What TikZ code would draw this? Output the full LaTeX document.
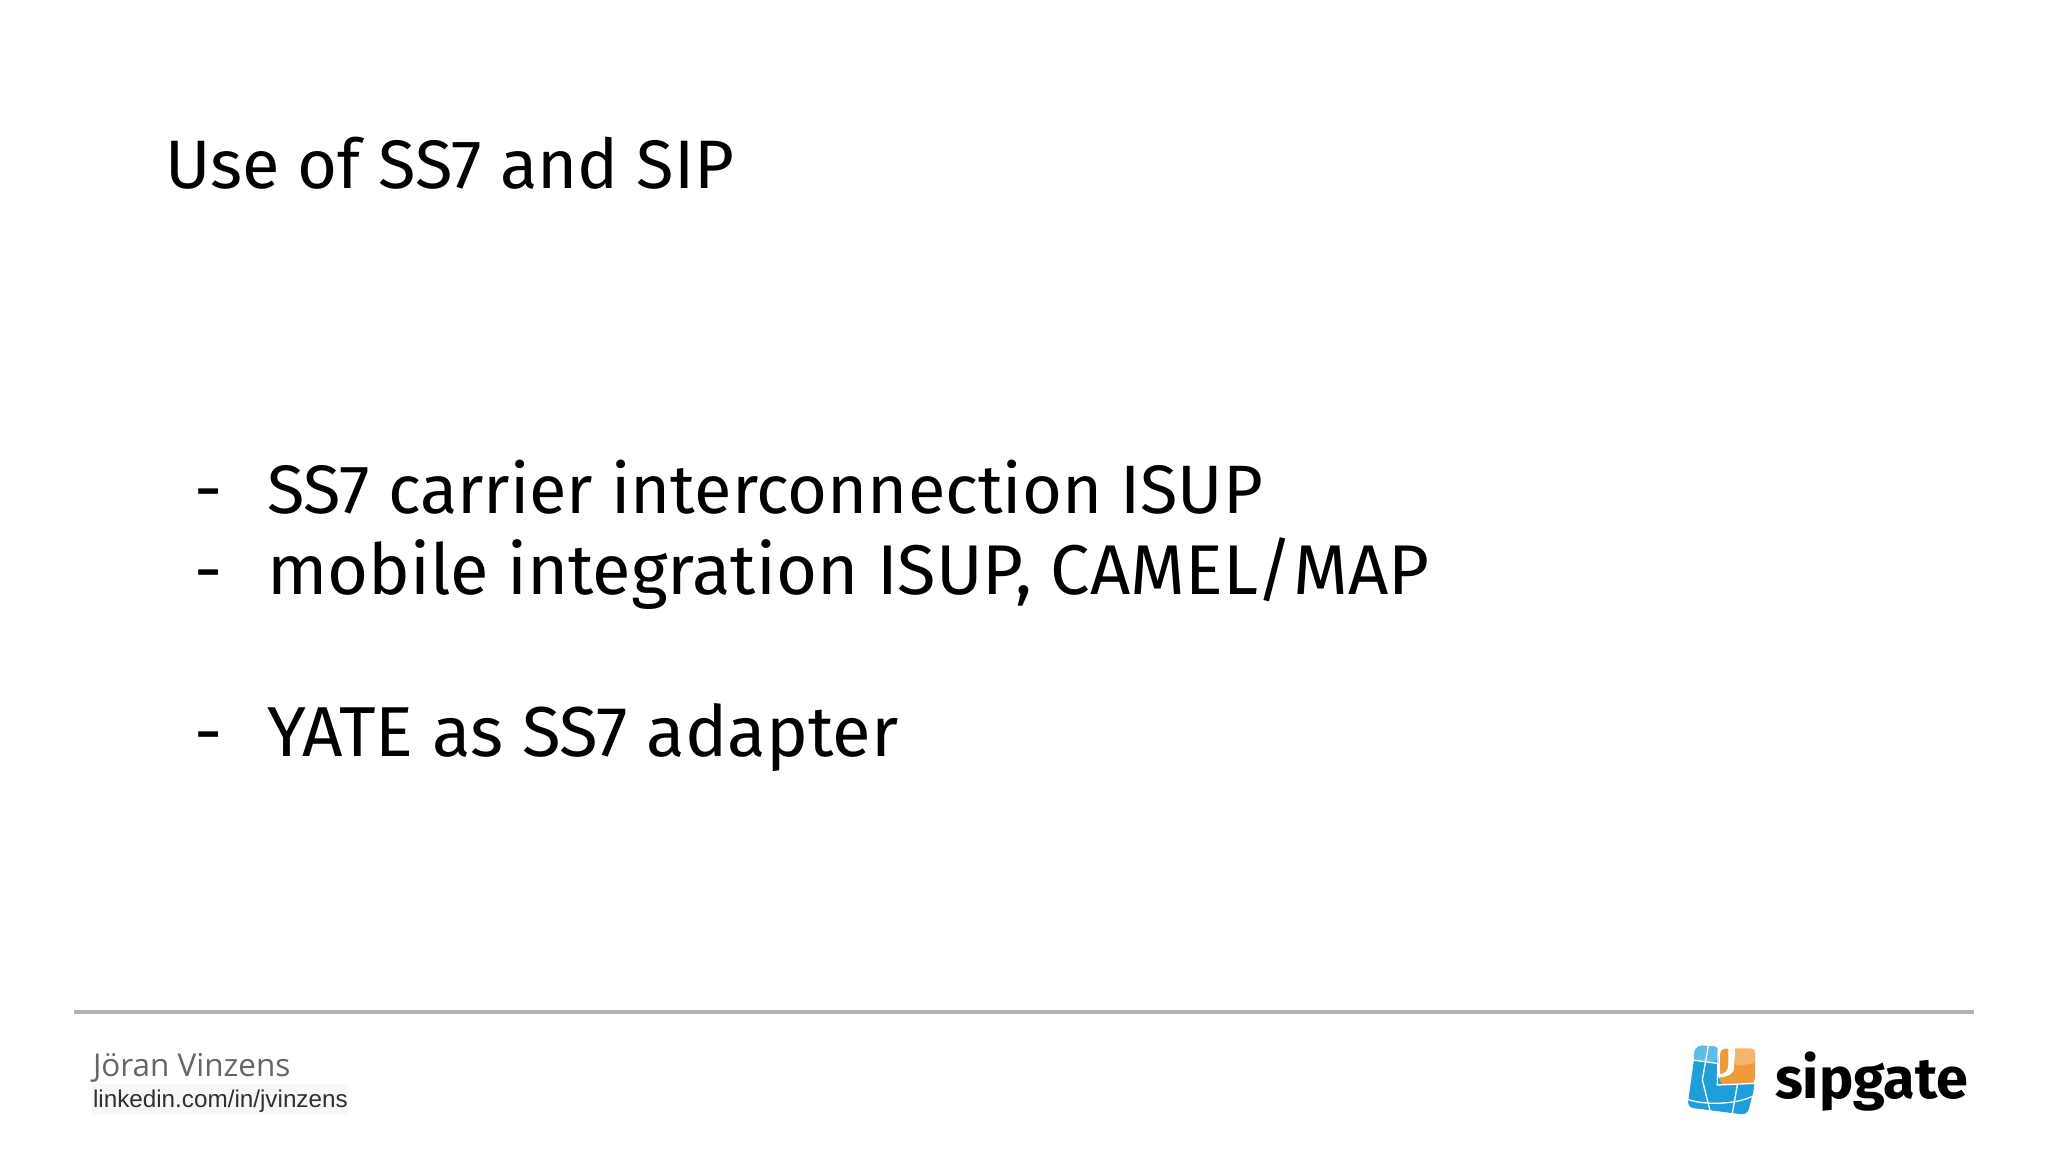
\documentclass[tikz,border=0pt]{standalone}
\usepackage{fontspec}
\setmainfont{Fira Sans}
\newfontfamily\openf{Open Sans}
\newfontfamily\libf{Liberation Sans}
\definecolor{rulegrey}{HTML}{B2B2B2}
\definecolor{authorgrey}{HTML}{666666}
\definecolor{linkgrey}{HTML}{303030}
\definecolor{linkbg}{HTML}{F8F8F8}
\definecolor{logoblue}{HTML}{1E9FDC}
\definecolor{logolight}{HTML}{5CBDE6}
\definecolor{logoorange}{HTML}{EE9A3A}
\definecolor{logoorangel}{HTML}{F5B570}
\tikzset{
  slidetext/.style={anchor=base west,inner sep=0pt,outer sep=0pt,text=black},
  titletext/.style={slidetext,font=\fontsize{68.6}{84}\selectfont},
  bodytext/.style={slidetext,font=\fontsize{#1}{84}\selectfont},
  logoline/.style={draw=white,line width=1.3pt}
}
\begin{document}
\begin{tikzpicture}[x=1pt,y=-1pt]
\useasboundingbox (0,0) rectangle (2048,1152);
\fill[white] (0,0) rectangle (2048,1152);
\node[titletext] (title) at (165,188.5) {Use of SS7 and SIP};
\node[bodytext=70] (d1) at (194,513.5) {-};
\node[bodytext=68.5] (b1) at (267,513.5) {SS7 carrier interconnection ISUP};
\node[bodytext=70] (d2) at (194,594.5) {-};
\node[bodytext=70.4] (b2) at (267,594.5) {mobile integration ISUP, CAMEL/MAP};
\node[bodytext=70] (d3) at (194,756.5) {-};
\node[bodytext=70.7] (b3) at (267,756.5) {YATE as SS7 adapter};
\draw[rulegrey,line width=4pt] (74,1012) -- (1974,1012);
\fill[linkbg] (92,1084) rectangle (348,1114);
\node[slidetext,text=authorgrey,font=\openf\fontsize{31.5}{36}\selectfont] (author) at (93,1076) {Jöran Vinzens};
\node[slidetext,text=linkgrey,font=\libf\fontsize{24.25}{30}\selectfont] (link) at (93,1107) {linkedin.com/in/jvinzens};
\begin{scope}[shift={(1660,1030)},x=0.3333pt,y=-0.3333pt]
  \fill[logoblue,rounded corners=6pt] (108,46) -- (178,50) -- (172,150) -- (280,150) -- (284,170) -- (262,255) -- (82,232) -- cycle;
  \fill[logolight,rounded corners=6pt] (108,46) -- (178,50) -- (170,100) -- (97,90) -- cycle;
  \fill[logoorange,rounded corners=5pt] (180,56) -- (285,56) -- (285,160) -- (180,165) -- cycle;
  \fill[logoorangel,rounded corners=3pt] (225,56) -- (285,56) -- (285,100) -- (225,108) -- cycle;
  \fill[white] (205,52) -- (226,52) -- (222,115) .. controls (220,132) and (205,140) .. (180,142) -- (180,132) .. controls (195,130) and (205,125) .. (205,100) -- cycle;
  \draw[logoline] (175,48) -- (172,165) -- (284,160);
  \draw[logoline] (145,47) -- (127,150) -- (150,242);
  \draw[logoline] (97,90) -- (172,100);
  \draw[logoline] (82,208) .. controls (130,225) and (220,225) .. (275,200);
  \draw[logoline] (232,165) -- (217,250);
  \node[slidetext,font=\bfseries\fontsize{57.6}{70}\selectfont] (logo) at (345,205) {sipgate};
\end{scope}
\end{tikzpicture}
\end{document}
